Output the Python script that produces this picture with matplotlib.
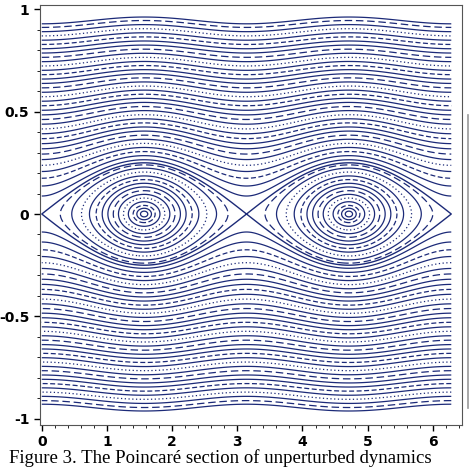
import numpy as np
import matplotlib.pyplot as plt
from matplotlib.lines import Line2D

# momentum of each orbit where it crosses x = pi/2
inner_p = [0.014, 0.028, 0.042, 0.06, 0.078, 0.096, 0.114, 0.132, 0.15, 0.168, 0.186, 0.205, 0.224, 0.24]
outer_p = [0.265, 0.285, 0.305, 0.325, 0.345, 0.365, 0.385, 0.405, 0.425, 0.445, 0.465,
           0.485, 0.505, 0.525, 0.545, 0.565, 0.585, 0.605, 0.625, 0.645, 0.665, 0.685,
           0.705, 0.725, 0.745, 0.765, 0.785, 0.805, 0.825, 0.845, 0.865, 0.885, 0.905,
           0.925, 0.945, 0.962]
sep_p = 0.25
a = (sep_p / 2) ** 2
styles = ["solid", "solid", (0, (4, 2)), "solid", (0, (1, 2)), "solid", (0, (6, 3))]

x = np.linspace(0, 2 * np.pi, 800)
y = np.linspace(-1.02, 1.02, 900)
X, Y = np.meshgrid(x, y)
H = Y ** 2 / 2 + a * (1 + np.cos(2 * X))

fig = plt.figure(figsize=(4.74, 4.69), dpi=100)
ax = fig.add_axes([0.084, 0.094, 0.891, 0.895])
col = "#1c2a78"
ps = inner_p + outer_p
levels = sorted(p ** 2 / 2 for p in ps)
ls = [styles[i % len(styles)] for i in range(len(levels))]
ax.contour(X, Y, H, levels=levels, colors=col, linewidths=0.9, linestyles=ls)
ax.contour(X, Y, H, levels=[2 * a], colors=col, linewidths=1.0)

ax.set_xlim(-0.03, 6.45)
ax.set_ylim(-1.03, 1.02)
ax.set_xticks([0, 1, 2, 3, 4, 5, 6])
ax.set_yticks([-1, -0.5, 0, 0.5, 1])
ax.set_yticklabels(["-1", "-0.5", "0", "0.5", "1"])
ax.set_xticks(np.arange(0, 6.5, 0.2), minor=True)
ax.set_yticks(np.arange(-1, 1.01, 0.1), minor=True)
for lab in ax.get_xticklabels() + ax.get_yticklabels():
    lab.set_fontweight("bold")
    lab.set_fontsize(10)
ax.tick_params(direction="out", length=4, width=1)
ax.tick_params(which="minor", length=2)
for s in ax.spines.values():
    s.set_color("#555555")

fig.text(0.02, 0.012, "Figure 3. The Poincaré section of unperturbed dynamics",
         family="Liberation Serif", fontsize=13.5)
fig.add_artist(Line2D([0.987, 0.987], [0.13, 0.755], color="#999999", lw=1.2))
fig.savefig("out.png")
